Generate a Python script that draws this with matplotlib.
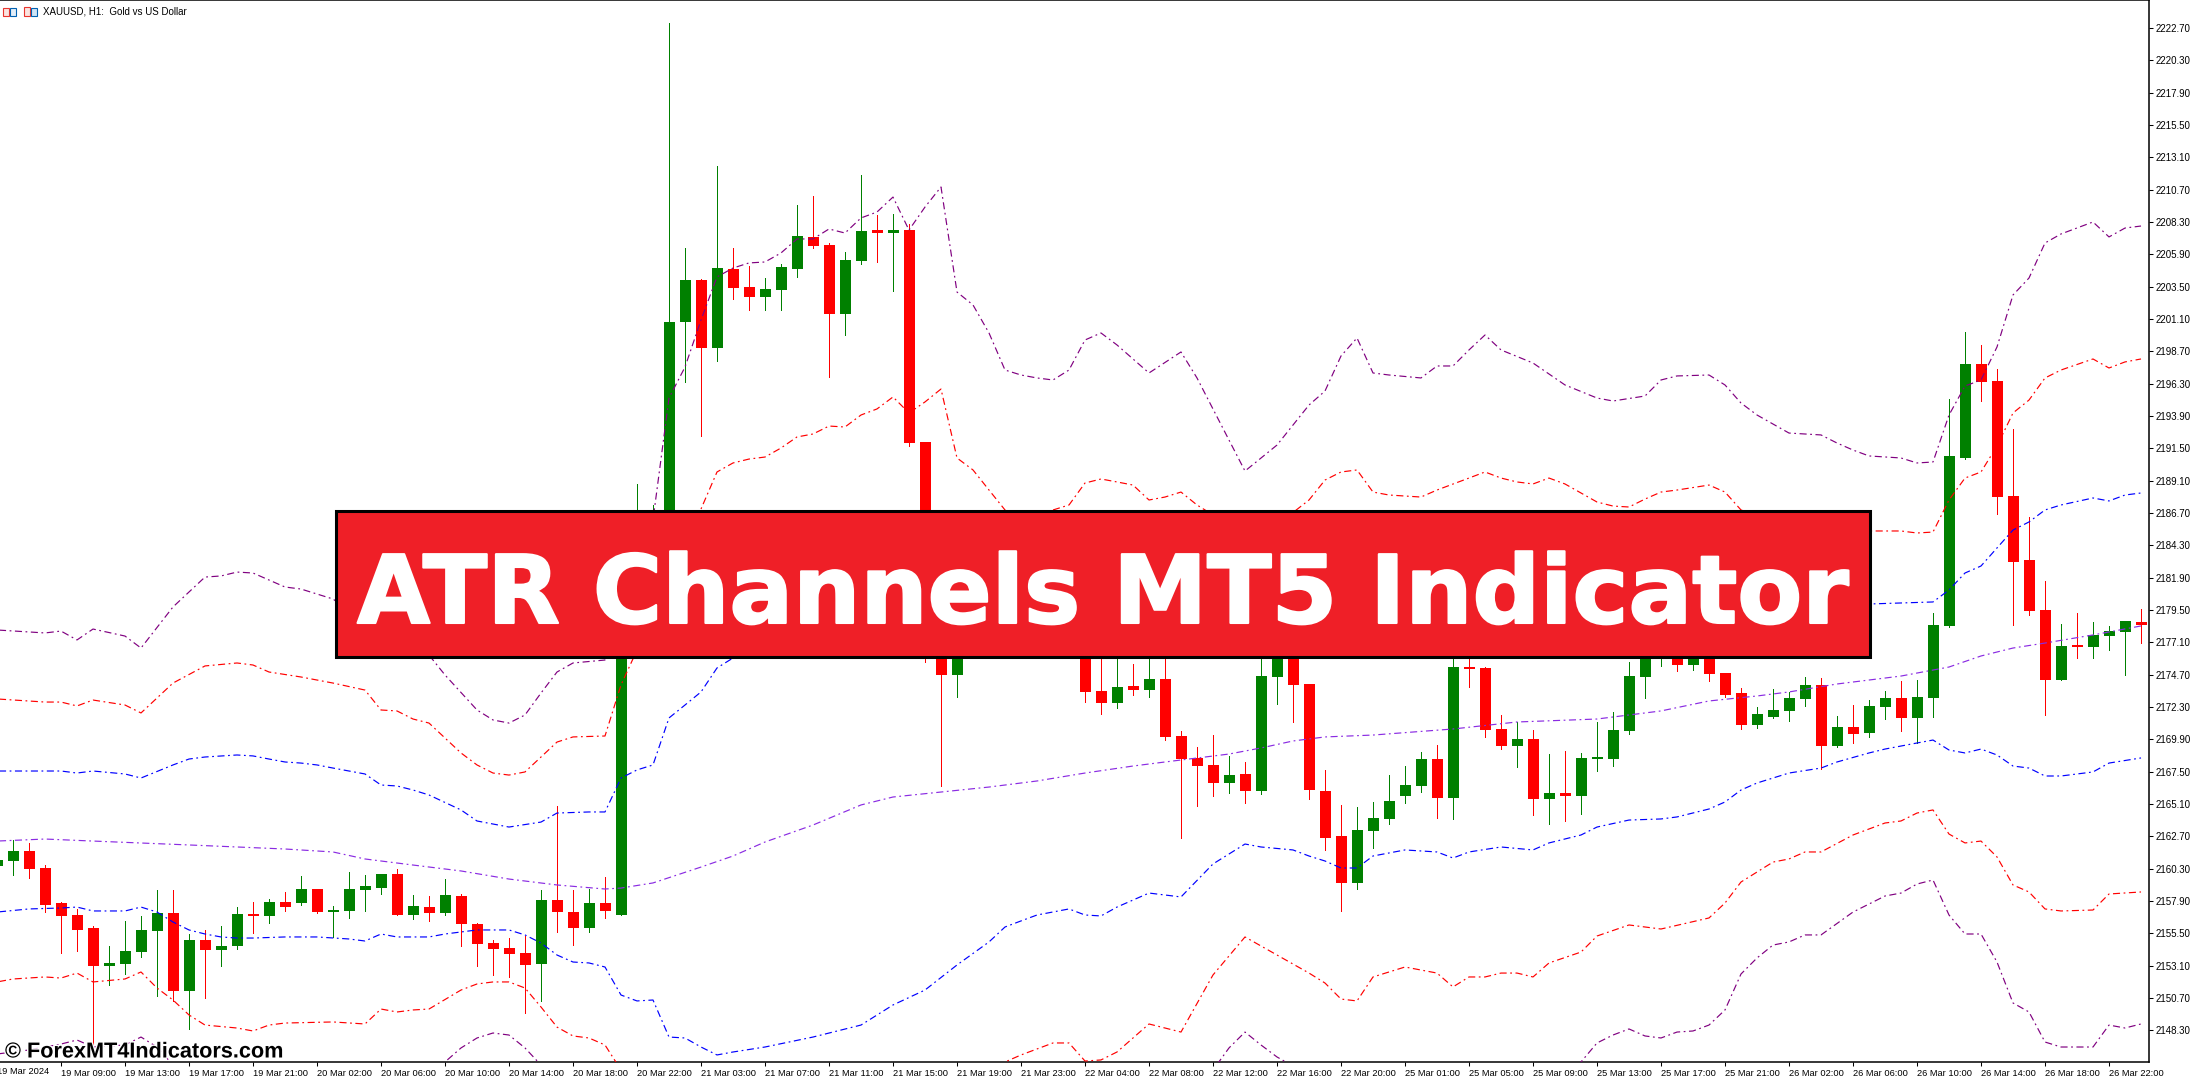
import numpy as np
import matplotlib
matplotlib.use('Agg')
import matplotlib.pyplot as plt
import matplotlib.patheffects as pe
from matplotlib.patches import Rectangle

W, H = 2192, 1079

# hourly candles, one value per bar
opens = [2160.49,2160.86,2161.60,2160.34,2157.74,2156.85,2155.88,2153.06,2153.21,2154.10,
         2155.66,2157.00,2151.20,2155.00,2154.25,2154.55,2156.92,2156.77,2157.81,2157.74,
         2158.78,2157.07,2157.14,2158.70,2158.85,2159.89,2156.85,2157.44,2157.00,2158.26,
         2156.18,2154.77,2154.40,2154.03,2153.21,2157.96,2157.07,2155.88,2157.74,2156.85,
         2178.50,2182.00,2185.00,2200.87,2203.99,2198.94,2204.81,2203.47,2202.73,2203.25,
         2204.81,2207.19,2206.59,2201.47,2205.40,2207.70,2207.48,2207.70,2191.96,2184.00,
         2174.67,2178.00,2177.20,2179.00,2177.80,2179.40,2178.00,2179.20,2178.00,2173.48,
         2172.59,2173.85,2173.56,2174.37,2170.14,2168.51,2167.99,2166.65,2167.32,2166.06,
         2174.52,2178.00,2174.00,2166.06,2162.72,2159.23,2163.09,2163.98,2165.69,2166.43,
         2168.44,2165.54,2175.27,2175.19,2170.66,2169.40,2169.92,2165.47,2165.91,2165.69,
         2168.44,2168.44,2170.51,2174.52,2176.50,2177.00,2175.41,2176.60,2174.82,2173.34,
         2170.96,2171.55,2172.00,2172.89,2173.93,2169.40,2170.81,2170.37,2172.30,2172.96,
         2171.48,2172.96,2178.30,2190.78,2197.75,2196.49,2187.95,2183.20,2179.49,2174.30,
         2176.82,2176.75,2177.56,2177.86,2178.60]
highs = [2161.10,2162.42,2162.19,2160.56,2157.81,2157.29,2156.03,2154.54,2156.40,2156.77,
         2158.70,2158.70,2155.43,2155.73,2156.03,2157.44,2157.81,2158.03,2158.55,2159.74,
         2158.78,2157.51,2160.04,2159.82,2159.89,2160.26,2158.33,2158.26,2159.52,2158.41,
         2156.25,2155.00,2155.14,2155.29,2158.70,2164.94,2158.70,2158.78,2159.67,2179.20,
         2188.85,2187.29,2223.07,2206.37,2204.07,2212.46,2206.37,2205.03,2204.14,2205.18,
         2209.56,2210.23,2206.74,2206.07,2211.79,2208.82,2208.89,2208.15,2192.00,2185.00,
         2180.00,2179.50,2180.00,2180.50,2180.20,2180.40,2180.00,2179.80,2179.00,2177.50,
         2177.20,2175.49,2176.60,2176.60,2170.51,2169.33,2170.22,2168.66,2168.21,2176.00,
         2179.50,2179.00,2174.00,2167.62,2165.02,2164.87,2165.24,2167.25,2167.92,2168.96,
         2169.47,2176.00,2176.50,2175.27,2171.70,2171.18,2170.59,2168.81,2169.03,2168.88,
         2171.18,2171.92,2175.60,2177.20,2177.40,2177.60,2177.00,2177.00,2174.82,2173.71,
         2172.30,2173.63,2173.41,2174.52,2174.45,2171.63,2172.44,2172.82,2173.48,2174.23,
         2174.30,2179.27,2195.16,2200.13,2199.17,2197.38,2192.93,2186.40,2181.64,2178.45,
         2179.27,2178.60,2178.30,2178.67,2179.57]
lows = [2160.30,2159.82,2159.59,2157.07,2154.03,2154.17,2147.05,2151.65,2152.47,2153.73,
        2150.83,2150.46,2148.38,2150.68,2153.06,2154.32,2155.51,2156.25,2157.14,2157.59,
        2157.00,2155.21,2156.62,2157.14,2158.41,2156.85,2156.55,2156.40,2156.85,2154.55,
        2153.06,2152.39,2152.24,2149.57,2150.46,2155.58,2154.62,2155.58,2156.62,2156.85,
        2177.00,2180.50,2184.00,2196.42,2192.41,2197.98,2202.58,2201.77,2201.77,2201.77,
        2204.22,2206.37,2196.79,2199.91,2205.18,2205.33,2203.18,2191.67,2175.63,2166.43,
        2173.03,2176.80,2176.50,2177.00,2176.60,2177.40,2176.80,2177.50,2172.67,2171.78,
        2172.22,2173.19,2173.04,2169.85,2162.57,2164.95,2165.69,2165.91,2165.17,2165.84,
        2172.52,2171.18,2165.47,2161.68,2157.15,2158.78,2161.83,2163.61,2165.17,2165.99,
        2164.06,2163.98,2173.78,2170.07,2169.18,2167.84,2164.28,2163.61,2163.83,2164.35,
        2167.54,2167.92,2170.29,2172.96,2175.34,2174.97,2175.04,2174.23,2173.04,2170.66,
        2170.74,2171.48,2171.26,2172.37,2167.69,2169.33,2169.62,2170.07,2171.41,2170.51,
        2169.62,2171.55,2178.23,2190.70,2195.01,2186.62,2178.38,2179.12,2171.70,2174.30,
        2175.93,2175.93,2176.52,2174.67,2177.04]
closes = [2160.93,2161.60,2160.26,2157.59,2156.77,2155.73,2153.06,2153.28,2154.17,2155.73,
          2157.00,2151.20,2155.00,2154.25,2154.55,2156.92,2156.77,2157.81,2157.44,2158.78,
          2157.07,2157.22,2158.78,2159.00,2159.89,2156.85,2157.51,2157.00,2158.33,2156.18,
          2154.69,2154.32,2153.95,2153.13,2157.96,2157.07,2155.88,2157.74,2157.14,2178.50,
          2182.00,2185.00,2200.87,2203.99,2198.94,2204.88,2203.40,2202.73,2203.32,2204.96,
          2207.26,2206.52,2201.47,2205.48,2207.63,2207.48,2207.70,2191.89,2184.00,2174.67,
          2178.00,2177.20,2179.00,2177.80,2179.40,2178.00,2179.20,2178.00,2173.41,2172.59,
          2173.78,2173.56,2174.37,2170.07,2168.44,2167.92,2166.65,2167.25,2166.06,2174.60,
          2178.00,2173.93,2166.13,2162.57,2159.23,2163.16,2164.06,2165.32,2166.51,2168.44,
          2165.54,2175.27,2175.12,2170.59,2169.40,2169.92,2165.47,2165.91,2165.69,2168.51,
          2168.51,2170.59,2174.60,2176.50,2176.90,2175.41,2176.60,2174.75,2173.19,2170.96,
          2171.78,2172.07,2172.96,2173.93,2169.40,2170.81,2170.29,2172.37,2172.96,2171.48,
          2173.04,2178.38,2190.92,2197.75,2196.42,2187.88,2183.05,2179.42,2174.30,2176.82,
          2176.75,2177.64,2177.93,2178.67,2178.38]

# channel lines, read at the bars where they bend
upper3_bars = [0,3,4,5,6,8,9,11,13,14,15,16,17,18,19,21,24,27,28,30,31,32,33,34,35,36,38,39,40,41,42,43,44,45,46,47,48,49,50,51,52,53,54,55,56,57,58,59,60,61,62,63,64,65,66,67,68,69,70,72,74,75,77,78,80,82,83,84,85,86,87,89,90,91,92,93,94,96,98,100,101,103,104,105,107,108,109,110,112,114,115,116,117,119,120,121,122,123,124,125,126,127,128,129,131,132,133,134]
upper3 = [2178.01,2177.79,2177.93,2177.27,2178.08,2177.56,2176.67,2179.72,2181.94,2182.02,2182.31,2182.24,2181.72,2181.20,2181.05,2180.31,2177.64,2176.15,2174.67,2172.07,2171.33,2171.10,2171.70,2173.33,2174.89,2175.56,2175.78,2178.75,2182.83,2186.18,2195.23,2197.53,2201.02,2204.22,2204.88,2205.26,2205.33,2206.00,2207.04,2207.04,2207.78,2207.48,2208.60,2209.04,2210.15,2207.70,2209.41,2210.90,2203.10,2202.14,2200.06,2197.31,2196.94,2196.72,2196.57,2197.31,2199.54,2200.06,2199.17,2197.09,2198.65,2196.72,2192.11,2189.81,2191.74,2194.71,2195.75,2198.35,2199.69,2197.09,2196.94,2196.72,2197.61,2197.61,2198.80,2199.91,2198.80,2197.83,2196.20,2195.23,2195.01,2195.38,2196.57,2196.87,2196.94,2196.20,2194.86,2193.97,2192.63,2192.49,2191.89,2191.37,2190.93,2190.78,2190.41,2190.48,2193.97,2196.12,2196.57,2199.02,2202.88,2204.14,2206.74,2207.41,2208.30,2207.19,2207.85,2208.00]

upper2_bars = [0,3,4,5,6,8,9,11,13,15,16,17,19,21,23,24,25,26,27,29,30,31,32,33,34,35,36,38,39,40,41,42,43,44,45,46,47,48,49,50,51,52,53,54,55,56,57,58,59,60,61,62,63,64,65,66,67,68,69,70,71,72,73,74,75,76,78,80,82,83,84,85,86,87,89,90,92,93,94,95,96,97,98,100,101,102,103,104,105,107,108,109,111,113,117,118,119,120,121,122,123,124,125,126,127,128,129,131,132,133,134]
upper2 = [2172.89,2172.66,2172.66,2172.37,2172.81,2172.44,2171.85,2174.07,2175.34,2175.56,2175.41,2174.89,2174.52,2174.07,2173.55,2172.07,2172.00,2171.40,2171.10,2168.88,2167.99,2167.39,2167.24,2167.47,2168.58,2169.69,2170.07,2170.14,2173.93,2176.52,2179.49,2182.09,2184.32,2186.99,2189.74,2190.41,2190.70,2190.85,2191.52,2192.34,2192.56,2193.15,2193.08,2193.97,2194.42,2195.31,2194.12,2194.94,2195.90,2190.78,2189.89,2188.40,2186.92,2185.80,2186.03,2186.92,2187.29,2188.92,2189.22,2189.00,2188.77,2187.66,2187.88,2188.25,2187.29,2186.55,2184.69,2185.80,2187.66,2189.14,2189.74,2189.89,2188.25,2188.03,2187.88,2188.40,2189.29,2189.74,2189.29,2189.00,2188.85,2189.29,2188.85,2187.51,2187.21,2187.14,2187.73,2188.25,2188.40,2188.77,2188.25,2186.92,2186.03,2185.36,2185.36,2185.36,2185.36,2185.21,2185.28,2187.66,2189.29,2189.74,2191.67,2194.12,2195.08,2196.72,2197.31,2198.13,2197.46,2197.91,2198.13]

upper1_bars = [0,4,5,6,8,9,11,12,13,15,16,17,18,19,20,21,23,24,25,26,27,29,30,32,34,35,37,38,39,40,41,42,43,44,45,46,50,56,59,60,64,68,74,78,85,93,100,108,114,117,121,122,123,124,125,126,127,128,129,131,132,133,134]
upper1 = [2167.54,2167.54,2167.39,2167.54,2167.32,2167.02,2167.99,2168.43,2168.58,2168.73,2168.66,2168.43,2168.21,2168.13,2167.99,2167.76,2167.32,2166.50,2166.43,2166.13,2165.76,2164.65,2163.83,2163.38,2163.75,2164.42,2164.50,2164.50,2167.02,2167.62,2167.99,2171.48,2172.44,2173.41,2175.19,2175.93,2178.75,2181.72,2182.46,2179.12,2177.27,2178.75,2178.75,2177.27,2180.24,2180.24,2179.12,2179.86,2179.12,2179.94,2180.09,2180.98,2182.24,2182.76,2184.10,2185.43,2186.03,2186.92,2187.29,2187.81,2187.59,2188.03,2188.18]

middle_bars = [0,3,6,12,15,18,21,23,26,29,32,35,38,39,41,44,46,48,51,54,56,59,62,65,68,71,73,77,79,81,83,86,91,95,100,104,107,110,112,115,119,122,124,126,128,131,134]
middle = [2162.34,2162.49,2162.34,2162.05,2161.90,2161.75,2161.53,2161.01,2160.56,2160.12,2159.52,2159.08,2158.78,2158.85,2159.23,2160.41,2161.23,2162.27,2163.53,2165.02,2165.61,2165.98,2166.35,2166.80,2167.39,2167.91,2168.21,2168.80,2169.25,2169.77,2170.07,2170.21,2170.66,2171.18,2171.40,2172.00,2172.74,2173.11,2173.41,2174.00,2174.59,2175.26,2176.08,2176.67,2177.04,2177.64,2178.31]

lower1_bars = [0,2,4,5,6,8,9,10,11,12,13,14,15,16,18,20,22,23,24,25,27,28,29,30,32,33,34,35,36,37,38,39,40,41,42,43,44,45,46,48,51,54,56,58,60,62,63,64,65,67,68,69,70,72,74,76,78,79,81,82,83,84,85,86,88,90,91,92,94,96,97,99,100,102,104,105,107,108,109,110,112,114,115,117,118,120,121,122,123,124,125,126,127,128,129,131,132,134]
lower1 = [2157.07,2157.30,2157.37,2157.44,2157.15,2157.15,2157.44,2157.07,2156.33,2155.74,2155.44,2155.22,2155.14,2155.14,2155.22,2155.22,2155.07,2154.92,2155.44,2155.22,2155.22,2155.44,2155.59,2155.74,2155.74,2155.37,2154.77,2153.88,2153.36,2153.29,2152.99,2150.91,2150.47,2150.54,2147.79,2147.72,2147.05,2146.46,2146.68,2147.05,2147.79,2148.68,2150.17,2151.28,2153.14,2154.85,2155.96,2156.41,2156.85,2157.30,2156.85,2156.78,2157.44,2158.48,2158.19,2160.64,2162.12,2161.90,2161.68,2161.23,2160.86,2160.34,2160.34,2161.23,2161.68,2161.53,2161.08,2161.53,2161.90,2161.68,2162.20,2162.79,2163.38,2163.90,2163.98,2164.13,2164.72,2165.24,2166.13,2166.65,2167.39,2167.76,2168.21,2168.88,2169.17,2169.62,2169.84,2169.10,2168.88,2169.17,2168.73,2167.91,2167.76,2167.17,2167.17,2167.47,2168.13,2168.51]

lower2_bars = [0,1,3,4,5,6,8,9,10,11,12,13,15,16,17,18,21,23,24,25,26,27,29,30,31,32,33,34,35,36,37,38,39,42,46,55,60,62,63,64,66,67,68,69,70,72,74,76,78,80,82,83,84,85,86,88,90,91,92,93,94,95,96,97,99,100,102,104,107,108,109,111,112,113,114,116,118,119,120,121,122,123,124,125,126,127,128,129,131,132,134]
lower2 = [2151.88,2152.10,2152.25,2152.17,2152.54,2151.88,2152.10,2152.62,2151.43,2150.54,2149.43,2148.68,2148.46,2148.24,2148.68,2148.83,2148.91,2148.76,2149.87,2149.65,2149.80,2149.87,2151.28,2151.73,2151.88,2151.88,2151.43,2150.02,2148.53,2147.87,2147.72,2147.20,2145.34,2142.00,2140.52,2140.89,2141.63,2144.60,2145.94,2146.46,2147.35,2147.35,2146.01,2146.09,2146.68,2148.76,2148.16,2152.40,2155.22,2153.88,2152.54,2151.80,2150.61,2150.47,2152.25,2152.99,2152.54,2151.51,2152.25,2152.25,2152.54,2152.54,2152.25,2153.29,2154.10,2155.29,2156.11,2155.81,2156.63,2157.74,2159.30,2160.78,2161.01,2161.53,2161.53,2162.79,2163.68,2163.83,2164.42,2164.65,2162.86,2162.20,2162.34,2161.16,2159.08,2158.56,2157.30,2157.15,2157.22,2158.41,2158.56]

lower3_bars = [0,2,4,5,6,8,9,10,11,15,25,27,28,29,30,31,32,33,34,36,60,76,77,78,79,80,81,84,98,99,100,101,102,103,104,105,106,107,108,109,110,111,112,113,114,116,118,119,120,121,122,123,124,125,126,127,128,129,131,132,133,134]
lower3 = [2146.53,2146.83,2147.27,2147.57,2147.05,2147.20,2147.79,2147.05,2145.71,2143.12,2143.12,2144.97,2145.94,2146.98,2147.72,2148.09,2147.94,2146.98,2145.71,2143.12,2137.18,2145.34,2146.98,2148.16,2147.20,2146.31,2145.64,2144.23,2144.97,2145.94,2147.35,2147.94,2148.39,2147.87,2147.72,2148.16,2148.24,2148.68,2149.80,2152.47,2153.66,2154.62,2154.85,2155.37,2155.37,2157.07,2158.26,2158.48,2159.15,2159.45,2156.85,2155.44,2155.44,2153.36,2150.32,2149.65,2147.42,2147.05,2147.05,2148.68,2148.46,2148.76]

price_ticks = [2222.70,2220.30,2217.90,2215.50,2213.10,2210.70,2208.30,2205.90,2203.50,2201.10,2198.70,2196.30,2193.90,2191.50,2189.10,2186.70,2184.30,2181.90,2179.50,2177.10,2174.70,2172.30,2169.90,2167.50,2165.10,2162.70,2160.30,2157.90,2155.50,2153.10,2150.70,2148.30]
time_ticks = [4,8,12,16,20,24,28,32,36,40,44,48,52,56,60,64,68,72,76,80,84,88,92,96,100,104,108,112,116,120,124,128,132]
time_labels = ['19 Mar 09:00','19 Mar 13:00','19 Mar 17:00','19 Mar 21:00','20 Mar 02:00','20 Mar 06:00','20 Mar 10:00','20 Mar 14:00','20 Mar 18:00','20 Mar 22:00','21 Mar 03:00','21 Mar 07:00','21 Mar 11:00','21 Mar 15:00','21 Mar 19:00','21 Mar 23:00','22 Mar 04:00','22 Mar 08:00','22 Mar 12:00','22 Mar 16:00','22 Mar 20:00','25 Mar 01:00','25 Mar 05:00','25 Mar 09:00','25 Mar 13:00','25 Mar 17:00','25 Mar 21:00','26 Mar 02:00','26 Mar 06:00','26 Mar 10:00','26 Mar 14:00','26 Mar 18:00','26 Mar 22:00']

plt.rcParams['font.family'] = ['Liberation Sans', 'DejaVu Sans']

fig = plt.figure(figsize=(W / 100, H / 100), dpi=100, facecolor='white')
ax = fig.add_axes([0, (H - 1062) / H, 2149 / W, 1062 / H])
ax.set_xlim(3 / 16, 2152 / 16)
ax.set_ylim(2224.78 - 1062 * 0.07424, 2224.78)

bars = np.arange(len(opens))
o, h, l, c = map(np.array, (opens, highs, lows, closes))
up = c >= o
colors = np.where(up, '#008000', '#FF0000')

ax.vlines(bars, l, h, colors=colors, linewidth=0.5, antialiased=False, zorder=2)
ax.bar(bars, np.maximum(np.abs(c - o), 0.15), bottom=np.minimum(o, c), width=11 / 16,
       color=colors, linewidth=0, antialiased=False, zorder=3)

# channel lines sit on top of the candles
dash = (0, (6, 3, 1.5, 3))
for xs, ys, col in [(upper3_bars, upper3, '#800080'), (upper2_bars, upper2, '#FF0000'),
                    (upper1_bars, upper1, '#0000FF'), (middle_bars, middle, '#8A2BE2'),
                    (lower1_bars, lower1, '#0000FF'), (lower2_bars, lower2, '#FF0000'),
                    (lower3_bars, lower3, '#800080')]:
    ax.plot(xs, ys, color=col, linewidth=0.85, linestyle=dash, zorder=4)

ax.spines['left'].set_visible(False)
for s in ['top', 'right', 'bottom']:
    ax.spines[s].set_linewidth(1.1)
ax.yaxis.tick_right()
ax.set_yticks(price_ticks)
ax.set_yticklabels(['%.2f' % p for p in price_ticks])
ax.set_xticks(time_ticks)
ax.set_xticklabels(time_labels, ha='left')
ax.tick_params(axis='y', length=3, width=0.75, labelsize=7, pad=2)
ax.tick_params(axis='x', length=3, width=0.75, labelsize=6.7, pad=2)
fig.text(-3 / W, 1 - 1072 / H, '19 Mar 2024', fontsize=6.7, va='center', ha='left')


def add_box(x0, y0, x1, y1, **kw):
    fig.add_artist(Rectangle((x0 / W, 1 - y1 / H), (x1 - x0) / W, (y1 - y0) / H,
                             transform=fig.transFigure, **kw))


# the little toolbar icons in the corner
add_box(3, 8, 9, 16, fc='#FBE4E0', ec='#E8352E', lw=0.8)
add_box(10, 8, 16, 16, fc='#E3EEF8', ec='#0060B0', lw=0.8)
add_box(24, 7, 30, 16, fc='#FBE4E0', ec='#E8352E', lw=0.8)
add_box(31, 8, 37, 16, fc='#CFE4F5', ec='#0060B0', lw=0.8)
fig.text(43 / W, 1 - 11 / H, 'XAUUSD, H1:  Gold vs US Dollar', fontsize=7, va='center', ha='left')

# banner over the chart
add_box(336, 511, 1870, 657, fc='#EF1F27', ec='black', lw=2.2, zorder=10)
banner = fig.text(1103 / W, 1 - 587 / H, 'ATR Channels MT5 Indicator', fontsize=68, fontweight='bold',
                  family='DejaVu Sans', color='white', ha='center', va='center_baseline', zorder=11)
banner.set_path_effects([pe.withStroke(linewidth=1.5, foreground='white')])

mark = fig.text(5 / W, 1 - 1052 / H, '\u00a9 ForexMT4Indicators.com', fontsize=15.6, fontweight='bold',
                color='black', ha='left', va='center', zorder=11)
mark.set_path_effects([pe.withStroke(linewidth=2, foreground='white')])

fig.savefig('out.png', dpi=100)
